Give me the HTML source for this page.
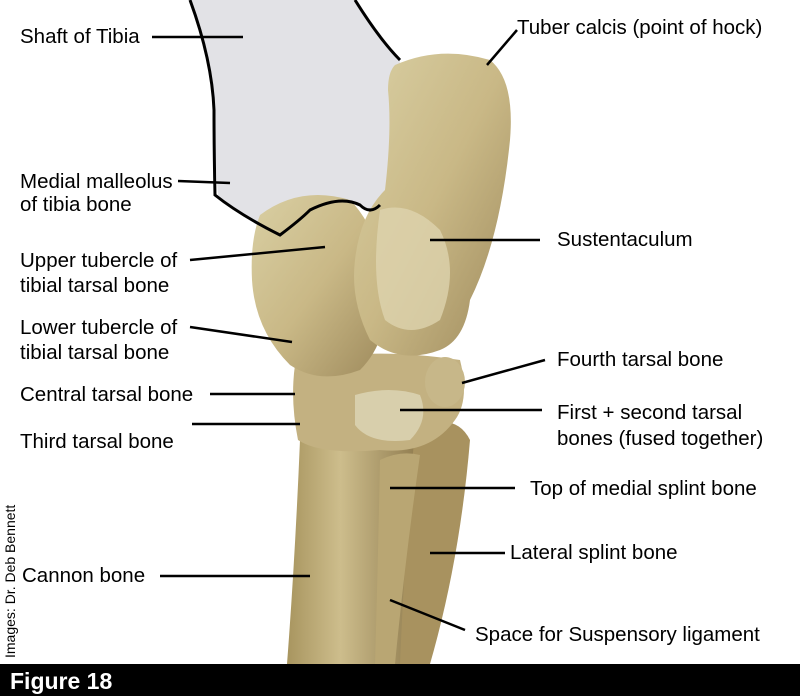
<!DOCTYPE html>
<html><head><meta charset="utf-8"><style>
html,body{margin:0;padding:0;background:#fff;}
#w{position:relative;width:800px;height:696px;overflow:hidden;font-family:"Liberation Sans",Arial,sans-serif;}
svg{position:absolute;left:0;top:0;}
</style></head><body><div id="w">
<svg width="800" height="696" viewBox="0 0 800 696" font-family="Liberation Sans, Arial, sans-serif" font-size="20.5" fill="#000">
<defs>
<linearGradient id="b1" x1="0" y1="0" x2="1" y2="1"><stop offset="0" stop-color="#d9cfa3"/><stop offset="0.5" stop-color="#c9b886"/><stop offset="1" stop-color="#9e8a5c"/></linearGradient>
<linearGradient id="b2" x1="0" y1="0" x2="1" y2="0"><stop offset="0" stop-color="#a8955f"/><stop offset="0.4" stop-color="#cdbd8c"/><stop offset="1" stop-color="#8f7b4e"/></linearGradient>
</defs>
<path d="M190 0 L355 0 Q380 40 400 60 L395 200 Q370 215 360 205 Q340 195 310 210 Q290 225 280 235 Q240 215 218 195 Q214 150 214 110 Q212 60 190 0 Z" fill="#e2e2e6"/>
<path d="M300 440 L420 440 Q415 560 410 664 L287 664 Q295 560 300 440 Z" fill="url(#b2)"/>
<path d="M415 430 Q455 410 470 440 Q460 560 430 664 L400 664 Q405 540 415 430 Z" fill="#a8925f"/>
<path d="M380 460 Q400 450 420 455 Q405 560 395 664 L375 664 Q378 560 380 460 Z" fill="#b9a673"/>
<path d="M295 365 Q360 345 460 360 Q470 400 455 420 Q430 455 380 450 Q320 455 298 440 Q290 400 295 365 Z" fill="#c3b181"/>
<path d="M355 395 Q390 385 420 395 Q430 420 410 440 Q370 445 355 425 Z" fill="#d8cfac"/>
<ellipse cx="445" cy="382" rx="20" ry="25" fill="#c7b789"/>
<path d="M260 215 Q300 185 350 200 Q380 230 385 290 Q390 340 360 370 Q320 385 290 365 Q255 330 252 280 Q250 240 260 215 Z" fill="url(#b1)"/>
<path d="M395 65 Q440 45 490 60 Q515 80 510 140 Q500 240 470 300 Q465 340 440 350 Q400 365 370 340 Q350 300 355 260 Q360 215 385 190 Q392 130 388 90 Q388 72 395 65 Z" fill="url(#b1)"/>
<path d="M380 210 Q410 200 440 230 Q460 270 440 320 Q410 340 385 320 Q370 280 380 210 Z" fill="#ddd3ae" opacity="0.8"/>
<path d="M190 0 Q212 60 214 110 Q214 150 215 195 Q240 215 280 235 Q300 220 310 210 Q340 195 360 205 Q370 215 380 205" fill="none" stroke="#000" stroke-width="3"/>
<path d="M355 0 Q380 40 400 60" fill="none" stroke="#000" stroke-width="3"/>
<g stroke="#000" stroke-width="2.5" fill="none">
<line x1="152" y1="37" x2="243" y2="37"/>
<line x1="517" y1="30" x2="487" y2="65"/>
<line x1="178" y1="181" x2="230" y2="183"/>
<line x1="430" y1="240" x2="540" y2="240"/>
<line x1="190" y1="260" x2="325" y2="247"/>
<line x1="190" y1="327" x2="292" y2="342"/>
<line x1="545" y1="360" x2="462" y2="383"/>
<line x1="210" y1="394" x2="295" y2="394"/>
<line x1="400" y1="410" x2="542" y2="410"/>
<line x1="192" y1="424" x2="300" y2="424"/>
<line x1="390" y1="488" x2="515" y2="488"/>
<line x1="430" y1="553" x2="505" y2="553"/>
<line x1="160" y1="576" x2="310" y2="576"/>
<line x1="390" y1="600" x2="465" y2="630"/>
</g>
<text x="20" y="43">Shaft of Tibia</text>
<text x="517" y="34">Tuber calcis (point of hock)</text>
<text x="20" y="188">Medial malleolus</text>
<text x="20" y="211">of tibia bone</text>
<text x="557" y="246">Sustentaculum</text>
<text x="20" y="267">Upper tubercle of</text>
<text x="20" y="292">tibial tarsal bone</text>
<text x="20" y="334">Lower tubercle of</text>
<text x="20" y="359">tibial tarsal bone</text>
<text x="557" y="366">Fourth tarsal bone</text>
<text x="20" y="401">Central tarsal bone</text>
<text x="557" y="419">First + second tarsal</text>
<text x="557" y="445">bones (fused together)</text>
<text x="20" y="448">Third tarsal bone</text>
<text x="530" y="495">Top of medial splint bone</text>
<text x="510" y="559">Lateral splint bone</text>
<text x="22" y="582">Cannon bone</text>
<text x="475" y="641">Space for Suspensory ligament</text>
<text transform="translate(15,658) rotate(-90)" font-size="14">Images: Dr. Deb Bennett</text>
<rect x="0" y="664" width="800" height="32" fill="#000"/>
<text x="10" y="689" fill="#fff" font-size="23" font-weight="bold">Figure 18</text>
</svg>
</div></body></html>
